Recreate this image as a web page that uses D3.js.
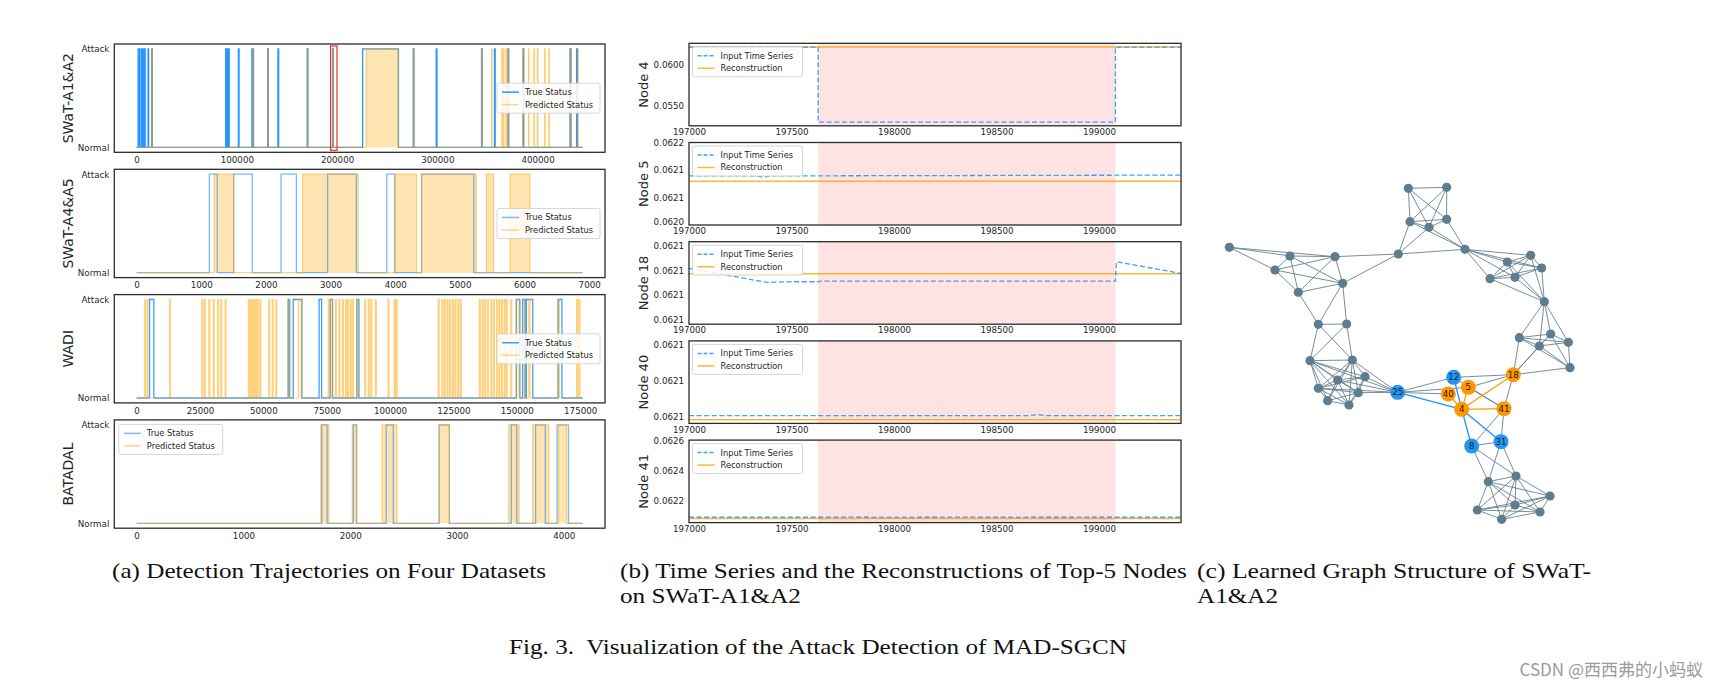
<!DOCTYPE html>
<html><head><meta charset="utf-8">
<script src="https://cdn.jsdelivr.net/npm/d3@7"></script>
<style>body{margin:0;background:#fff} svg{display:block}</style>
</head><body>
<svg id="chart" width="1711" height="693"></svg>
<script>
// ================= DATA =================
// ---- Panel (a): detection trajectories ----
const datasetNames = ["SWaT-A1&A2", "SWaT-A4&A5", "WADI", "BATADAL"];
const datasetLengths = [445000, 6900, 176000, 4177];
const statusTickLabels = ["Normal", "Attack"];
const xTicksA = [
  [0, 100000, 200000, 300000, 400000],
  [0, 1000, 2000, 3000, 4000, 5000, 6000, 7000],
  [0, 25000, 50000, 75000, 100000, 125000, 150000, 175000],
  [0, 1000, 2000, 3000, 4000]
];
const legendLabelsA = ["True Status", "Predicted Status"];

// attack intervals [start, end]
const trueSwat12 = [[1500,2200],[2700,3300],[4900,5500],[6400,7000],[8000,8600],[11400,12000],[15000,15700],[88800,89500],[89800,90500],[90800,91500],[91700,92400],[101500,102200],[115000,115700],[116000,116600],[130700,131400],[141000,141700],[170200,170900],[195500,196300],[225500,261200],[276000,276700],[298900,299600],[344100,344800],[357000,357700],[370500,371200],[385500,386200],[432300,433400],[439000,439700]];
const predSwat12 = [[15000,15700],[116000,116600],[130700,131400],[170400,170900],[195500,196300],[229100,261200],[276000,276700],[344100,344800],[354200,354700],[364200,364700],[366000,366500],[368500,369000],[370500,371200],[385500,386200],[390900,391400],[396300,396800],[399800,400300],[407000,407500],[411200,411700],[432300,433400],[440100,440600]];

const trueSwat45 = [[1125,1247],[1502,1790],[2234,2472],[2955,3398],[3869,3991],[4407,5216]];
const predSwat45 = [[1200,1502],[2567,3426],[3997,4330],[4407,5255],[5410,5521],[5776,6086]];

const trueWadi = [[5100,6800],[59800,60400],[61800,65200],[72000,73000],[76400,77300],[86900,87700],[149800,151200],[152300,153300],[153800,156300],[166300,167800]];
const predWadi = [[3100,3500],[4100,4500],[13000,13400],[25700,26100],[26700,27100],[28500,28900],[30200,30600],[32000,32400],[33200,33600],[34900,35300],[44100,44500],[44800,45200],[45500,45900],[46200,46600],[46900,47300],[47600,48000],[48600,49000],[52100,52500],[53500,53900],[54900,55300],[59700,60300],[63800,65200],[75600,76000],[76500,77300],[78400,78800],[79800,80200],[81200,81600],[82400,82800],[83200,83600],[84300,84700],[85200,85600],[86900,87700],[90000,90400],[91400,91800],[92400,92800],[94200,94600],[99200,99600],[101600,102000],[102400,102800],[119000,119400],[120400,120800],[121400,121800],[122500,122900],[123500,123900],[124600,125000],[125600,126000],[126700,127100],[127700,128100],[135200,135600],[136300,136700],[137300,137700],[138400,138800],[139700,140100],[140800,141200],[142000,142400],[143000,143400],[144000,144400],[145100,145500],[145800,146200],[147600,148000],[149800,151000],[152900,153300],[154700,155300],[166200,166800],[173600,174000],[174500,174900]];

const trueBatadal = [[1734,1784],[2029,2059],[2337,2404],[2832,2929],[3509,3559],[3736,3827],[3937,4044]];
const predBatadal = [[1724,1801],[2019,2062],[2297,2437],[2832,2929],[3485,3582],[3709,3860],[3950,4027]];

const trueIntervals = [trueSwat12, trueSwat45, trueWadi, trueBatadal];
const predIntervals = [predSwat12, predSwat45, predWadi, predBatadal];
const highlightWindow = [193500, 199900]; // red box on SWaT-A1&A2

// ---- Panel (b): time series & reconstructions ----
const nodeNames = ["Node 4", "Node 5", "Node 18", "Node 40", "Node 41"];
const timeTicks = [197000, 197500, 198000, 198500, 199000];
const timeDomain = [197000, 199400];
const attackWindow = [197630, 199080];
const inputX = [
  [197000, 197630, 197630, 199080, 199080, 199400],
  [197000, 197330, 197360, 197400, 199400],
  [197000, 197380, 197500, 197630, 197640, 199080, 199085, 199400],
  [197000, 198650, 198700, 198750, 199400],
  [197000, 197800, 198000, 198300, 198600, 198900, 199400]
];
const inputY = [
  [0.0621, 0.0621, 0.05307, 0.05307, 0.0621, 0.0621],
  [0.062119, 0.062119, 0.062116, 0.062119, 0.062121],
  [0.06211126, 0.06210954, 0.06210962, 0.06210962, 0.06210970, 0.06210970, 0.06211208, 0.06211064],
  [0.06210018, 0.06210018, 0.06210033, 0.06210018, 0.06210020],
  [0.0620878, 0.0620880, 0.0620872, 0.0620883, 0.0620876, 0.0620880, 0.0620878]
];
const reconValues = [0.0621, 0.062106, 0.0621106, 0.06209964, 0.062079];
const yDomainsB = [
  [0.05262, 0.06255],
  [0.06200, 0.06220],
  [0.06210442, 0.06211453],
  [0.06209912, 0.06211051],
  [0.062052, 0.0626044]
];
const yTicksB = [
  [0.0550, 0.0600],
  [0.06200, 0.0620667, 0.0621333, 0.06220],
  [0.062105, 0.062108, 0.062111, 0.062114],
  [0.0621, 0.062105, 0.06211],
  [0.0622, 0.0624, 0.0626]
];
const yTickLabelsB = [
  ["0.0550", "0.0600"],
  ["0.0620", "0.0621", "0.0621", "0.0622"],
  ["0.0621", "0.0621", "0.0621", "0.0621"],
  ["0.0621", "0.0621", "0.0621"],
  ["0.0622", "0.0624", "0.0626"]
];
const legendLabelsB = ["Input Time Series", "Reconstruction"];

// ---- Panel (c): learned graph (layout units) ----
const nodeU = [625,740,630,740,687,595,795,88,270,405,225,428,295,355,440,330,457,413,495,355,475,383,447,992,922,1025,870,945,1033,958,1052,1018,1105,1110,761,940,805,745,593,785,912,815,903,865,948,1050,832,945,1020,905];
const nodeV = [55,52,155,148,172,252,238,232,258,260,300,340,367,463,462,572,570,630,620,655,668,692,705,256,276,294,326,322,395,503,492,528,517,593,622,614,652,672,667,718,716,828,815,935,918,978,1020,1005,1026,1048];
const nodeLabels = {34:"12",35:"18",36:"5",37:"40",38:"25",39:"4",40:"41",41:"8",42:"31"};
const blueNodes = [34, 38, 41, 42];
const orangeNodes = [35, 36, 37, 39, 40];
const graphEdges = [[0,1],[0,2],[0,3],[0,4],[1,2],[1,3],[1,4],[2,3],[2,4],[3,4],[2,5],[4,5],[4,6],[3,6],[2,6],[5,6],[5,9],[5,11],
[7,8],[7,9],[7,10],[8,9],[8,10],[8,11],[8,12],[9,10],[9,11],[9,12],[10,11],[10,12],[11,12],
[11,13],[11,14],[12,13],[13,14],[13,15],[13,16],[14,15],[14,16],
[15,16],[15,17],[15,18],[15,19],[15,20],[15,21],[15,22],[16,17],[16,18],[16,19],[16,20],[16,21],[16,22],[17,18],[17,19],[17,20],[17,21],[17,22],[18,19],[18,20],[18,22],[19,20],[19,21],[19,22],[20,21],[20,22],[21,22],
[16,38],[18,38],[17,38],[20,38],[19,38],[15,38],
[38,34],[38,37],[38,36],[34,35],[34,40],[36,35],[36,40],[35,40],[40,41],[40,42],[41,42],
[35,29],[35,31],[35,33],[35,30],
[29,30],[29,31],[29,32],[29,33],[30,31],[30,32],[30,33],[31,32],[31,33],[32,33],
[29,28],[30,28],[31,28],[32,28],
[28,23],[28,25],[28,24],[28,26],[28,27],
[23,24],[23,25],[23,26],[23,27],[24,25],[24,26],[24,27],[25,26],[25,27],[26,27],
[6,23],[6,24],[6,26],[6,27],[6,25],
[41,43],[41,44],[42,43],[42,44],
[43,44],[43,45],[43,46],[43,47],[43,48],[43,49],[44,45],[44,46],[44,47],[44,48],[44,49],[45,46],[45,47],[45,48],[45,49],[46,47],[46,48],[46,49],[47,48],[47,49],[48,49]];
const blueEdges = [[38,39],[34,39],[39,41],[39,42]];
const orangeEdges = [[39,35],[39,40],[39,36],[39,37]];

// ---- captions ----
const captionA = "(a) Detection Trajectories on Four Datasets";
const captionB = ["(b) Time Series and the Reconstructions of Top-5 Nodes", "on SWaT-A1&A2"];
const captionC = ["(c) Learned Graph Structure of SWaT-", "A1&A2"];
const figCaption = "Fig. 3.  Visualization of the Attack Detection of MAD-SGCN";
const watermark = "CSDN @西西弗的小蚂蚁";

// ================= DRAWING =================
const svg = d3.select("#chart");
const FONT = "'DejaVu Sans', sans-serif";
const SERIF = "'Liberation Serif', 'Times New Roman', serif";
const BLUE = "#1e90ff", ORANGE = "#ffa500", FRAME = "#2b2b2b", TXT = "#262626";
svg.append("rect").attr("width", 1711).attr("height", 693).attr("fill", "#fff");

function styleAxis(g, size) {
  g.select(".domain").remove();
  g.attr("font-family", FONT).attr("font-size", size);
  g.selectAll("text").attr("fill", TXT);
}
function toSteps(intervals, N) {
  const pts = [[0, 0]];
  intervals.forEach(([s, e]) => { pts.push([s, 0], [s, 1], [e, 1], [e, 0]); });
  pts.push([N, 0]);
  return pts;
}
function drawLegend(g, lx, ly, w, items) {
  g.append("rect").attr("x", lx).attr("y", ly).attr("width", w).attr("height", 30)
    .attr("rx", 2).attr("fill", "#fff").attr("fill-opacity", 0.85)
    .attr("stroke", "#cccccc").attr("stroke-width", 0.8);
  items.forEach((it, k) => {
    const yy = ly + 9 + k * 12.5;
    g.append("line").attr("x1", lx + 5).attr("x2", lx + 22).attr("y1", yy).attr("y2", yy)
      .attr("stroke", it.color).attr("stroke-width", 1.5).attr("stroke-opacity", it.opacity)
      .attr("stroke-dasharray", it.dash || null);
    g.append("text").attr("x", lx + 28).attr("y", yy).attr("dy", "0.35em")
      .attr("font-family", FONT).attr("font-size", 8.3).attr("fill", TXT).text(it.label);
  });
}

// ---- Panel (a) ----
const aLeft = 114.3, aRight = 605, aTops = [44, 169.3, 294.6, 419.9], aH = 108.3;
const trueAlpha = [0.95, 0.6, 0.85, 0.6];
const predLineAlpha = [0.5, 0.5, 0.45, 0.5];
const predFillAlpha = [0.3, 0.3, 0.18, 0.3];
datasetNames.forEach((name, i) => {
  const N = datasetLengths[i];
  const top = aTops[i], bot = top + aH;
  const x = d3.scaleLinear().domain([-0.05 * N, 1.05 * N]).range([aLeft, aRight]);
  const y = d3.scaleLinear().domain([-0.05, 1.05]).range([bot, top]);
  const g = svg.append("g");
  const line = d3.line().x(d => x(d[0])).y(d => y(d[1]));
  const area = d3.area().x(d => x(d[0])).y0(y(0)).y1(d => y(d[1]));
  const predSteps = toSteps(predIntervals[i], N);
  const trueSteps = toSteps(trueIntervals[i], N);
  g.append("path").datum(predSteps).attr("d", area).attr("fill", ORANGE).attr("fill-opacity", predFillAlpha[i]);
  g.append("path").datum(trueSteps).attr("d", line).attr("fill", "none")
    .attr("stroke", BLUE).attr("stroke-opacity", trueAlpha[i]).attr("stroke-width", 1.3);
  g.append("path").datum(predSteps).attr("d", line).attr("fill", "none")
    .attr("stroke", ORANGE).attr("stroke-opacity", predLineAlpha[i]).attr("stroke-width", 1.2);
  if (i === 0) {
    g.append("rect").attr("x", x(highlightWindow[0])).attr("y", y(1.03))
      .attr("width", x(highlightWindow[1]) - x(highlightWindow[0]))
      .attr("height", y(-0.03) - y(1.03))
      .attr("fill", "none").attr("stroke", "#e8302a").attr("stroke-width", 1.2);
  }
  g.append("rect").attr("x", aLeft).attr("y", top).attr("width", aRight - aLeft).attr("height", aH)
    .attr("fill", "none").attr("stroke", FRAME).attr("stroke-width", 1.3);
  g.append("g").attr("transform", `translate(0,${bot})`)
    .call(d3.axisBottom(x).tickValues(xTicksA[i]).tickSize(0).tickPadding(4.5).tickFormat(d3.format("d")))
    .call(a => styleAxis(a, 8.7));
  g.append("g").attr("transform", `translate(${aLeft},0)`)
    .call(d3.axisLeft(y).tickValues([0, 1]).tickSize(0).tickPadding(5).tickFormat((d, k) => statusTickLabels[k]))
    .call(a => styleAxis(a, 8.7));
  g.append("text").attr("transform", `translate(68,${top + aH / 2}) rotate(-90)`)
    .attr("text-anchor", "middle").attr("dy", "0.35em")
    .attr("font-family", FONT).attr("font-size", 14).attr("fill", TXT).text(name);
  const items = [
    { label: legendLabelsA[0], color: BLUE, opacity: trueAlpha[i] },
    { label: legendLabelsA[1], color: ORANGE, opacity: 0.45 }
  ];
  if (i < 3) drawLegend(g, aRight - 108, top + aH / 2 - 15, 103, items);
  else drawLegend(g, aLeft + 4.5, top + 4.5, 104, items);
});

// ---- Panel (b) ----
const bLeft = 689, bRight = 1181, bTops = [43.3, 142.5, 241.7, 340.9, 440.1], bH = 82.5;
const xb = d3.scaleLinear().domain(timeDomain).range([bLeft, bRight]);
nodeNames.forEach((name, i) => {
  const top = bTops[i], bot = top + bH;
  const y = d3.scaleLinear().domain(yDomainsB[i]).range([bot, top]);
  const g = svg.append("g");
  const clipId = "clipb" + i;
  g.append("clipPath").attr("id", clipId).append("rect")
    .attr("x", bLeft).attr("y", top).attr("width", bRight - bLeft).attr("height", bH);
  const pg = g.append("g").attr("clip-path", `url(#${clipId})`);
  pg.append("rect").attr("x", xb(attackWindow[0])).attr("y", top)
    .attr("width", xb(attackWindow[1]) - xb(attackWindow[0])).attr("height", bH)
    .attr("fill", "#ff0000").attr("fill-opacity", 0.115);
  const pts = inputX[i].map((v, k) => [v, inputY[i][k]]);
  const line = d3.line().x(d => xb(d[0])).y(d => y(d[1]));
  pg.append("path").datum(timeDomain.map(t => [t, reconValues[i]])).attr("d", line)
    .attr("fill", "none").attr("stroke", ORANGE).attr("stroke-width", 1.5).attr("stroke-opacity", 0.8);
  pg.append("path").datum(pts).attr("d", line).attr("fill", "none")
    .attr("stroke", BLUE).attr("stroke-opacity", 0.85).attr("stroke-width", 1.3)
    .attr("stroke-dasharray", "5,2.6");
  g.append("rect").attr("x", bLeft).attr("y", top).attr("width", bRight - bLeft).attr("height", bH)
    .attr("fill", "none").attr("stroke", FRAME).attr("stroke-width", 1.3);
  g.append("g").attr("transform", `translate(0,${bot})`)
    .call(d3.axisBottom(xb).tickValues(timeTicks).tickSize(0).tickPadding(3).tickFormat(d3.format("d")))
    .call(a => styleAxis(a, 8.7));
  const ya = g.append("g").attr("transform", `translate(${bLeft},0)`)
    .call(d3.axisLeft(y).tickValues(yTicksB[i]).tickSize(0).tickPadding(5).tickFormat((d, k) => yTickLabelsB[i][k]))
    .call(a => styleAxis(a, 8.7));
  // bottom tick label sitting on the frame edge: nudge up slightly to clear the x tick label
  ya.selectAll(".tick text").filter(d => Math.abs(y(d) - bot) < 1).attr("dy", "-0.05em");
  g.append("text").attr("transform", `translate(643,${top + bH / 2}) rotate(-90)`)
    .attr("text-anchor", "middle").attr("dy", "0.35em")
    .attr("font-family", FONT).attr("font-size", 13).attr("fill", TXT).text(name);
  drawLegend(g, bLeft + 3.5, top + 3.5, 110, [
    { label: legendLabelsB[0], color: BLUE, opacity: 0.85, dash: "4,2" },
    { label: legendLabelsB[1], color: ORANGE, opacity: 0.8 }
  ]);
});

// ---- Panel (c) ----
const gx = d3.scaleLinear().domain([0, 1200]).range([1200, 1600]);
const gy = d3.scaleLinear().domain([0, 1080]).range([170, 530]);
const gc = svg.append("g");
const key = (a, b) => a < b ? a + "-" + b : b + "-" + a;
const blueSet = new Set(blueEdges.map(e => key(e[0], e[1])));
gc.selectAll("line.e").data(graphEdges).join("line").attr("class", "e")
  .attr("x1", d => gx(nodeU[d[0]])).attr("y1", d => gy(nodeV[d[0]]))
  .attr("x2", d => gx(nodeU[d[1]])).attr("y2", d => gy(nodeV[d[1]]))
  .attr("stroke", "#5f7a89").attr("stroke-width", 0.9).attr("stroke-opacity", 0.95);
gc.selectAll("line.h").data(blueEdges.concat(orangeEdges)).join("line").attr("class", "h")
  .attr("x1", d => gx(nodeU[d[0]])).attr("y1", d => gy(nodeV[d[0]]))
  .attr("x2", d => gx(nodeU[d[1]])).attr("y2", d => gy(nodeV[d[1]]))
  .attr("stroke", d => blueSet.has(key(d[0], d[1])) ? "#1e90ff" : "#ff9900")
  .attr("stroke-width", 1.3);
const nodeIdx = d3.range(nodeU.length);
gc.selectAll("circle").data(nodeIdx).join("circle")
  .attr("cx", d => gx(nodeU[d])).attr("cy", d => gy(nodeV[d]))
  .attr("r", d => nodeLabels[d] ? 7.5 : 4.6)
  .attr("fill", d => blueNodes.includes(d) ? "#2196f3" : orangeNodes.includes(d) ? "#ff9800" : "#5f7d8c");
gc.selectAll("text").data(nodeIdx.filter(d => nodeLabels[d])).join("text")
  .attr("x", d => gx(nodeU[d])).attr("y", d => gy(nodeV[d])).attr("dy", "0.36em")
  .attr("text-anchor", "middle").attr("font-family", FONT).attr("font-size", 8.6)
  .attr("fill", "#1a1a1a").text(d => nodeLabels[d]);

// ---- captions ----
function cap(text, x, y, anchor, width) {
  const t = svg.append("text").attr("x", x).attr("y", y).attr("text-anchor", anchor)
    .attr("font-family", SERIF).attr("font-size", 21).attr("fill", "#111")
    .style("white-space", "pre").text(text);
  if (width) t.attr("textLength", width).attr("lengthAdjust", "spacingAndGlyphs");
  return t;
}
const ta = cap(captionA, 112, 578, "start");
const stretch = 434 / ta.node().getComputedTextLength();
ta.attr("textLength", 434).attr("lengthAdjust", "spacingAndGlyphs");
function capS(text, x, y, anchor) {
  const t = cap(text, x, y, anchor);
  const w = t.node().getComputedTextLength() * stretch;
  t.attr("textLength", w).attr("lengthAdjust", "spacingAndGlyphs");
}
capS(captionB[0], 620, 578, "start");
capS(captionB[1], 620, 603, "start");
cap(captionC[0], 1197, 578, "start", 394);
capS(captionC[1], 1197, 603, "start");
capS(figCaption, 818, 654, "middle");
svg.append("text").attr("x", 1703).attr("y", 676).attr("text-anchor", "end")
  .attr("font-family", "'Noto Sans CJK SC', 'Noto Sans', sans-serif").attr("font-size", 17)
  .attr("fill", "#9b9b9b").text(watermark);
</script>
</body></html>
